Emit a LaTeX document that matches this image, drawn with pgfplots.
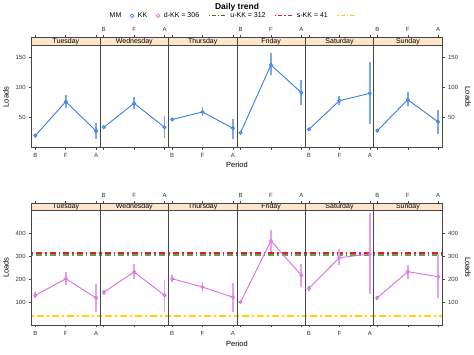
\documentclass[border=0pt]{standalone}
\usepackage{pgfplots}
\pgfplotsset{compat=1.18}
\usepackage{fontspec}
\setmainfont{Liberation Sans}

\definecolor{stripbg}{RGB}{255,229,204}
\definecolor{mmline}{RGB}{55,125,230}
\definecolor{mmerr}{RGB}{120,168,240}
\definecolor{kkline}{RGB}{218,110,222}
\definecolor{kkerr}{RGB}{232,160,236}
\definecolor{dkk}{RGB}{60,120,20}
\definecolor{ukk}{RGB}{220,30,40}
\definecolor{skk}{RGB}{255,212,0}
\definecolor{frame}{RGB}{70,70,70}

\pgfplotsset{
  panel/.style={scale only axis, width=68.4pt, anchor=south west,
    xmin=0.88, xmax=3.13, xtick={1,2,3}, xticklabels={B,F,A},
    xtick pos=both, tick align=outside, major tick length=2.5pt,
    axis on top, axis line style={frame, line width=0.8pt},
    tick style={frame, line width=0.5pt},
    ticklabel style={font=\fontsize{6}{6}\selectfont, text=black!80},
    /pgf/number format/assume math mode=true},
  toprow/.style={panel, height=110.4pt, ymin=0, ymax=184, ytick=\empty},
  botrow/.style={panel, height=121.7pt, ymin=0, ymax=531.6, ytick=\empty},
  mmstyle/.style={color=mmline, line width=0.9pt, mark=*, mark size=1.5pt,
    mark options={fill=mmline!45, draw=mmline},
    error bars/.cd, y dir=both, y explicit, error mark=none,
    error bar style={draw=mmerr, line width=1.8pt}},
  kkstyle/.style={color=kkline, line width=0.9pt, mark=*, mark size=1.5pt,
    mark options={fill=kkline!45, draw=kkline},
    error bars/.cd, y dir=both, y explicit, error mark=none,
    error bar style={draw=kkerr, line width=1.8pt}},
}

\newcommand{\topstrip}[1]{%
  \fill[stripbg] (axis cs:0.88,170) rectangle (axis cs:3.13,184);
  \draw[frame, line width=0.8pt] (axis cs:0.88,170) -- (axis cs:3.13,170);
  \node[font=\fontsize{7}{7}\selectfont] at (axis cs:2.005,177) {#1};}
\newcommand{\botstrip}[1]{%
  \fill[stripbg] (axis cs:0.88,501) rectangle (axis cs:3.13,531.6);
  \draw[frame, line width=0.8pt] (axis cs:0.88,501) -- (axis cs:3.13,501);
  \node[font=\fontsize{7}{7}\selectfont] at (axis cs:2.005,516.3) {#1};}
\newcommand{\reflines}{%
  \addplot[draw=ukk, line width=1.8pt, dash pattern=on 1.5pt off 3pt on 6pt off 3pt] coordinates {(0.88,313) (3.13,313)};
  \addplot[draw=dkk, opacity=0.75, line width=1.8pt, dash pattern=on 1.5pt off 3pt on 6pt off 3pt] coordinates {(0.88,306) (3.13,306)};
  \addplot[draw=skk, line width=2pt, dash pattern=on 2pt off 3pt on 7pt off 3pt] coordinates {(0.88,41) (3.13,41)};}

\begin{document}
\begin{tikzpicture}
\useasboundingbox (0,0) rectangle (474pt,355pt);

% ---------------- top row (MM) ----------------
\begin{axis}[toprow, at={(31.7pt,207.3pt)}, ytick={50,100,150}, ytick pos=left, yticklabel pos=left, xticklabel pos=lower,
  legend columns=5, legend plot pos=right,
  legend style={draw=none, fill=none, font=\fontsize{7}{7}\selectfont, at={(2.92,1.195)}, anchor=center,
    /tikz/every even column/.append style={column sep=2pt},
    /tikz/every odd column/.append style={column sep=7pt}}]
\addlegendimage{only marks, mark=o, draw=mmline, mark size=1.8pt, line width=0.7pt}
\addlegendimage{only marks, mark=o, draw=kkline, mark size=1.8pt, line width=0.7pt}
\addlegendimage{draw=dkk, line width=1.2pt, dash pattern=on 1.2pt off 2pt on 4pt off 2pt}
\addlegendimage{draw=ukk, line width=1.2pt, dash pattern=on 1.2pt off 2pt on 4pt off 2pt}
\addlegendimage{draw=skk, line width=1.2pt, dash pattern=on 1.2pt off 2pt on 4pt off 2pt}
\legend{MM,KK,d-KK = 306,u-KK = 312,s-KK = 41}
\topstrip{Tuesday}
\addplot[mmstyle] coordinates {(1,20) += (0,2) -= (0,2) (2,76.7) += (0,11.3) -= (0,11.2) (3,27.8) += (0,12.8) -= (0,13.8)};
\end{axis}

\begin{axis}[toprow, at={(100.1pt,207.3pt)}, xticklabel pos=upper]
\topstrip{Wednesday}
\addplot[mmstyle] coordinates {(1,34) += (0,2) -= (0,2) (2,74) += (0,10) -= (0,10) (3,34) += (0,18) -= (0,18.4)};
\end{axis}

\begin{axis}[toprow, at={(168.5pt,207.3pt)}, xticklabel pos=lower]
\topstrip{Thursday}
\addplot[mmstyle] coordinates {(1,47) += (0,3) -= (0,3) (2,59.5) += (0,7.5) -= (0,6.5) (3,32.3) += (0,15.7) -= (0,17.3)};
\end{axis}

\begin{axis}[toprow, at={(236.9pt,207.3pt)}, xticklabel pos=upper]
\topstrip{Friday}
\addplot[mmstyle] coordinates {(1,25) += (0,2) -= (0,2) (2,138) += (0,19) -= (0,17.3) (3,91.7) += (0,21.3) -= (0,21)};
\end{axis}

\begin{axis}[toprow, at={(305.3pt,207.3pt)}, xticklabel pos=lower]
\topstrip{Saturday}
\addplot[mmstyle] coordinates {(1,30.6) += (0,2) -= (0,2) (2,78.3) += (0,7.7) -= (0,7.6) (3,90.6) += (0,51.4) -= (0,51.6)};
\end{axis}

\begin{axis}[toprow, at={(373.7pt,207.3pt)}, ytick={50,100,150}, ytick pos=right, yticklabel pos=right, xticklabel pos=upper]
\topstrip{Sunday}
\addplot[mmstyle] coordinates {(1,28.3) += (0,2) -= (0,2) (2,80) += (0,12) -= (0,10.5) (3,43) += (0,20) -= (0,20.7)};
\end{axis}

% ---------------- bottom row (KK) ----------------
\begin{axis}[botrow, at={(31.7pt,30pt)}, ytick={100,200,300,400}, ytick pos=left, yticklabel pos=left, xticklabel pos=lower]
\botstrip{Tuesday}
\reflines
\addplot[kkstyle] coordinates {(1,129.6) += (0,14) -= (0,13) (2,202) += (0,29) -= (0,29) (3,118) += (0,59.6) -= (0,60)};
\end{axis}

\begin{axis}[botrow, at={(100.1pt,30pt)}, xticklabel pos=upper]
\botstrip{Wednesday}
\reflines
\addplot[kkstyle] coordinates {(1,143) += (0,12) -= (0,11) (2,231.4) += (0,33.6) -= (0,31.9) (3,129.6) += (0,67) -= (0,68.6)};
\end{axis}

\begin{axis}[botrow, at={(168.5pt,30pt)}, xticklabel pos=lower]
\botstrip{Thursday}
\reflines
\addplot[kkstyle] coordinates {(1,202) += (0,16) -= (0,16) (2,166) += (0,22) -= (0,23) (3,121) += (0,61) -= (0,63)};
\end{axis}

\begin{axis}[botrow, at={(236.9pt,30pt)}, xticklabel pos=upper]
\botstrip{Friday}
\reflines
\addplot[kkstyle] coordinates {(1,100.4) += (0,9) -= (0,8) (2,367) += (0,48) -= (0,48) (3,217) += (0,48) -= (0,52)};
\end{axis}

\begin{axis}[botrow, at={(305.3pt,30pt)}, xticklabel pos=lower]
\botstrip{Saturday}
\reflines
\addplot[kkstyle] coordinates {(1,160) += (0,10) -= (0,10) (2,294) += (0,36) -= (0,33) (3,310) += (0,178) -= (0,176)};
\end{axis}

\begin{axis}[botrow, at={(373.7pt,30pt)}, ytick={100,200,300,400}, ytick pos=right, yticklabel pos=right, xticklabel pos=upper]
\botstrip{Sunday}
\reflines
\addplot[kkstyle] coordinates {(1,119) += (0,9) -= (0,9) (2,233) += (0,30) -= (0,33.5) (3,211) += (0,95) -= (0,94.5)};
\end{axis}

% ---------------- titles and labels ----------------
\node[font=\bfseries\fontsize{8.5}{8.5}\selectfont] at (237pt,348pt) {Daily trend};
\node[font=\fontsize{7.5}{7.5}\selectfont] at (237pt,190pt) {Period};
\node[font=\fontsize{7.5}{7.5}\selectfont] at (237pt,11pt) {Period};
\node[font=\fontsize{7.5}{7.5}\selectfont, rotate=90] at (6pt,258pt) {Loads};
\node[font=\fontsize{7.5}{7.5}\selectfont, rotate=90] at (6pt,87.5pt) {Loads};
\node[font=\fontsize{7.5}{7.5}\selectfont, rotate=-90] at (468pt,258pt) {Loads};
\node[font=\fontsize{7.5}{7.5}\selectfont, rotate=-90] at (468pt,87.5pt) {Loads};
\end{tikzpicture}
\end{document}
